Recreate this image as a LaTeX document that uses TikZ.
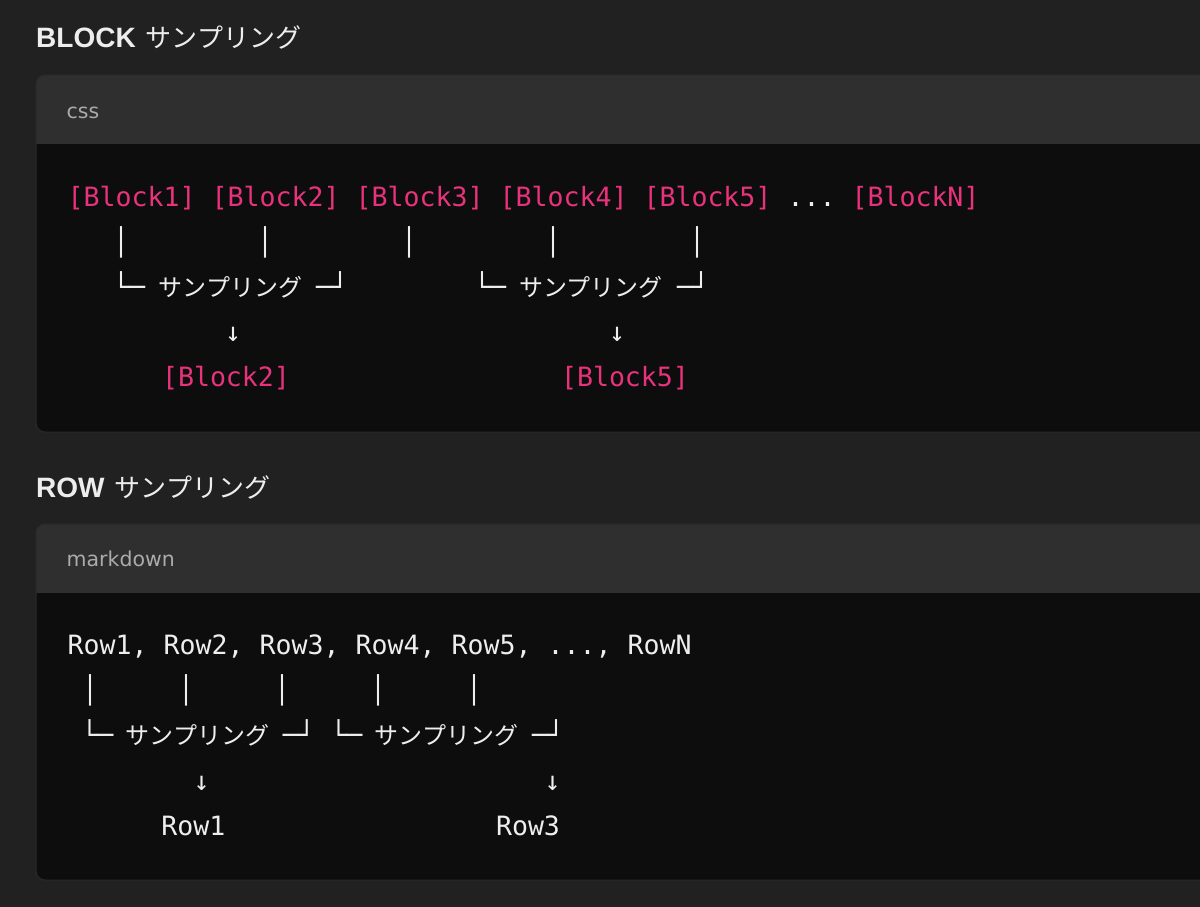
\documentclass[tikz,border=0pt]{standalone}
\usepackage{fontspec}
\setmonofont{DejaVu Sans Mono}
\newfontfamily\jpfont{Noto Sans CJK JP}
\newfontfamily\headfont{Liberation Sans}
\newfontfamily\labfont{DejaVu Sans}
\definecolor{bgc}{HTML}{212121}
\definecolor{hdrc}{HTML}{2F2F2F}
\definecolor{bodyc}{HTML}{0D0D0D}
\definecolor{edgec}{HTML}{2A2A2A}
\definecolor{titlec}{HTML}{EDEDED}
\definecolor{labc}{HTML}{ABABAB}
\definecolor{codec}{HTML}{EEEEEE}
\definecolor{pinkc}{HTML}{E8327C}
\tikzset{
  heading/.style={inner sep=0pt, anchor=base west, text=titlec, font=\headfont\bfseries\fontsize{28}{32}\selectfont},
  headkana/.style={inner sep=0pt, anchor=base, text=titlec, font=\jpfont\fontsize{26}{30}\selectfont},
  langlabel/.style={inner sep=0pt, anchor=base west, text=labc, font=\labfont\fontsize{20.5}{24}\selectfont},
  codetext/.style={inner sep=0pt, anchor=base west, text=codec, font=\ttfamily\fontsize{26.57}{30}\selectfont},
  codemid/.style={inner sep=0pt, anchor=base, text=codec, font=\ttfamily\fontsize{26.57}{30}\selectfont},
  codekana/.style={inner sep=0pt, anchor=base, text=codec, font=\jpfont\fontsize{24}{28}\selectfont},
  pinkmid/.style={codemid, text=pinkc},
}
\begin{document}
\begin{tikzpicture}[x=1pt,y=-1pt]
\useasboundingbox (0,0) rectangle (1200,907);
\clip (0,0) rectangle (1200,907);
\fill[bgc] (0,0) rectangle (1200,907);

% ---------- BLOCK section ----------
\node[heading] (h1) at (36,48) {BLOCK};
\node[headkana] (h1k) at (223.5,48) {サンプリング};

\fill[bodyc, rounded corners=9pt] (36,75) rectangle (1230,432);
\begin{scope}
  \clip[rounded corners=9pt] (36,75) rectangle (1230,432);
  \fill[hdrc] (36,75) rectangle (1230,144);
\end{scope}
\draw[edgec, line width=1pt, rounded corners=9pt] (36,75) rectangle (1230,432);
\node[langlabel] (l1) at (66.5,118.3) {css};

\node[codetext] (b1line) at (67.5,206) {\textcolor{pinkc}{[Block1] [Block2] [Block3] [Block4] [Block5]} ... \textcolor{pinkc}{[BlockN]}};

\foreach \px [count=\i] in {121,265,409,553,697}
  \node[codemid] (bp\i) at (\px,251.2) {│};

\node[codetext] (b1l) at (113,296.4) {└─};
\node[codekana] (b1k) at (230.4,296.4) {サンプリング};
\node[codetext] (b1r) at (316,296.4) {─┘};
\node[codetext] (b2l) at (474,296.4) {└─};
\node[codekana] (b2k) at (591,296.4) {サンプリング};
\node[codetext] (b2r) at (677,296.4) {─┘};

\node[codemid] (ba1) at (233,341.6) {↓};
\node[codemid] (ba2) at (617,341.6) {↓};

\node[pinkmid] (bo1) at (226,386.8) {[Block2]};
\node[pinkmid] (bo2) at (625,386.8) {[Block5]};

% ---------- ROW section ----------
\node[heading] (h2) at (36,497) {ROW};
\node[headkana] (h2k) at (192.5,497) {サンプリング};

\fill[bodyc, rounded corners=9pt] (36,524) rectangle (1230,880);
\begin{scope}
  \clip[rounded corners=9pt] (36,524) rectangle (1230,880);
  \fill[hdrc] (36,524) rectangle (1230,593);
\end{scope}
\draw[edgec, line width=1pt, rounded corners=9pt] (36,524) rectangle (1230,880);
\node[langlabel] (l2) at (66.5,566.7) {markdown};

\node[codetext] (r1line) at (67.5,654.3) {Row1, Row2, Row3, Row4, Row5, ..., RowN};

\foreach \px [count=\i] in {90,186,282,378,474}
  \node[codemid] (rp\i) at (\px,699.5) {│};

\node[codetext] (r1l) at (81.3,744.7) {└─};
\node[codekana] (r1k) at (197.5,744.7) {サンプリング};
\node[codetext] (r1r) at (282.7,744.7) {─┘};
\node[codetext] (r2l) at (330.3,744.7) {└─};
\node[codekana] (r2k) at (446.5,744.7) {サンプリング};
\node[codetext] (r2r) at (532,744.7) {─┘};

\node[codemid] (ra1) at (201.7,790) {↓};
\node[codemid] (ra2) at (552.7,790) {↓};

\node[codemid] (ro1) at (193.4,835.7) {Row1};
\node[codemid] (ro2) at (528,835.7) {Row3};
\end{tikzpicture}
\end{document}
